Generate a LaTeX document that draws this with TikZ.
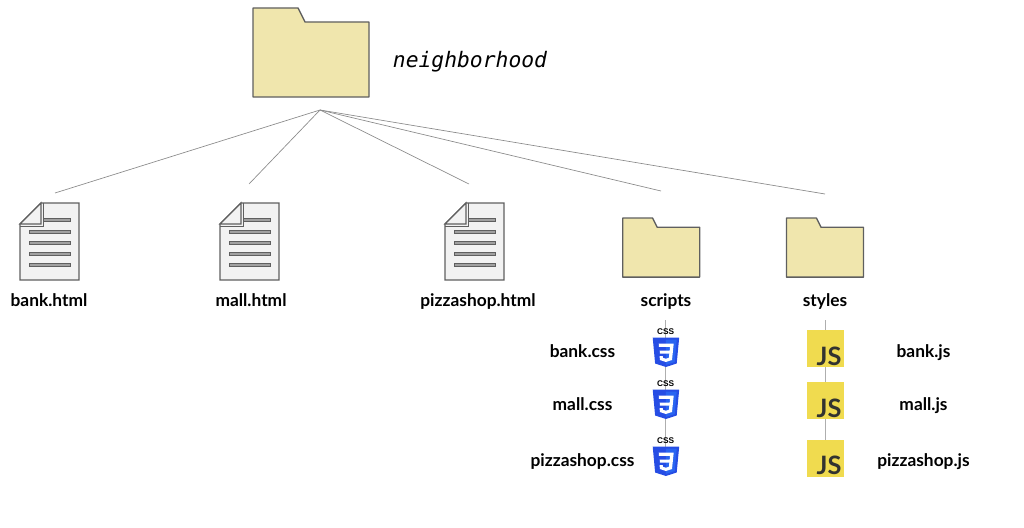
\documentclass[tikz,border=0pt]{standalone}
\usepackage{xcolor}
\usepackage{fontspec}
\setmainfont{Lato}
\newfontfamily\dirfont{DejaVu Sans Mono}
\newfontfamily\cssfont{Liberation Sans}
\usepackage{tikz}
\definecolor{folderfill}{HTML}{F0E6AD}
\definecolor{outline}{HTML}{5F5F5F}
\definecolor{link}{HTML}{8A8A8A}
\definecolor{bar}{HTML}{A0A0A0}
\definecolor{docfill}{HTML}{F2F2F2}
\definecolor{cssblue}{HTML}{264DE4}
\definecolor{csslight}{HTML}{2965F1}
\definecolor{jsyellow}{HTML}{F0DB4F}
\definecolor{jsdark}{HTML}{323330}
\tikzset{
  edge/.style={draw=link, line width=0.5pt},
  stem/.style={draw=bar!85, line width=1pt},
  lab/.style={font=\bfseries\fontsize{13}{15}\selectfont, text=black, inner sep=0pt, anchor=base},
  dirlab/.style={font=\dirfont\itshape\fontsize{16}{18}\selectfont, text=black, inner sep=0pt, anchor=base},
  folderpic/.pic={
    \draw[fill=folderfill, draw=outline, line width=1pt, line join=round]
      (0,0)--(45,0)--(52,14)--(116,14)--(116,89)--(0,89)--cycle;
  },
  docpic/.pic={
    \draw[fill=docfill, draw=outline, line width=0.9pt] (21,0)--(59,0)--(59,77)--(0,77)--(0,21)--cycle;
    \foreach \yy in {27.5,38.5,49.5,60.5} {
      \draw[fill=bar, draw=outline, line width=0.5pt] (9,\yy) rectangle (50,\yy+3);
    }
    \draw[fill=bar, draw=outline, line width=0.5pt] (23,15) rectangle (50,18);
    \draw[fill=docfill, draw=outline, line width=0.9pt] (21,0)--(0,21)--(21,21)--cycle;
    \draw[draw=outline, line width=0.6pt] (23,0)--(23,23)--(0,23);
  },
  csspic/.pic={
    \node[font=\cssfont\bfseries\fontsize{6.2}{7}\selectfont, inner sep=0pt] (#1) at (13,-5.5) {CSS};
    \fill[cssblue] (0,0)--(26.5,0)--(24,26)--(13.2,29.5)--(2.4,26)--cycle;
    \fill[csslight] (13.2,2.2)--(24,2.2)--(22,24.6)--(13.2,27.4)--cycle;
    \fill[white] (6,6)--(21,6)--(19.3,22.5)--(13.2,24.5)--(7.2,22.5)--(6.9,18.5)--(10,18.5)--(10.2,20.3)--(13.2,21.2)--(16.2,20.3)--(16.6,16.2)--(7.2,16.2)--(7,13)--(17,13)--(17.3,9.4)--(6.3,9.4)--cycle;
  },
  jspic/.pic={
    \fill[jsyellow] (0,0) rectangle (37,37);
    \node[font=\bfseries\fontsize{19}{21}\selectfont, text=jsdark, inner sep=0pt, anchor=base east] (#1) at (35,35) {JS};
  }
}
\begin{document}
\begin{tikzpicture}[x=0.75pt,y=-0.75pt]
  \useasboundingbox (0,0) rectangle (1024,528);

  % links from the root folder
  \coordinate (root) at (320,110);
  \coordinate (bankEnd) at (55,193);
  \coordinate (mallEnd) at (249,184);
  \coordinate (pizzaEnd) at (469,184);
  \coordinate (scriptsEnd) at (661,191);
  \coordinate (stylesEnd) at (825,194);
  \foreach \e in {bankEnd,mallEnd,pizzaEnd,scriptsEnd,stylesEnd}
    \draw[edge] (root)--(\e);

  % stems behind the icons
  \coordinate (cssTop) at (665.5,320);
  \coordinate (cssEnd) at (665.5,450);
  \coordinate (jsTop) at (825.5,320);
  \coordinate (jsEnd) at (825.5,445);
  \draw[stem] (cssTop)--(cssEnd);
  \draw[stem] (jsTop)--(jsEnd);

  % folders
  \pic at (253,8) {folderpic};
  \pic[scale=0.664] at (622.7,218) {folderpic};
  \pic[scale=0.664] at (786.5,218) {folderpic};

  % documents
  \foreach \xx in {20,220,445}
    \pic at (\xx,203) {docpic};

  % icons
  \pic at (652.7,337.5) {csspic=cssA};
  \pic at (652.7,389.5) {csspic=cssB};
  \pic at (652.7,446.5) {csspic=cssC};
  \pic at (806.7,330) {jspic=jsA};
  \pic at (806.7,382) {jspic=jsB};
  \pic at (806.7,439.5) {jspic=jsC};

  % labels
  \node[dirlab] (neighborhood) at (470,68) {neighborhood};
  \node[lab] (bankHtml) at (49,306) {bank.html};
  \node[lab] (mallHtml) at (251,306) {mall.html};
  \node[lab] (pizzaHtml) at (478,306) {pizzashop.html};
  \node[lab] (scripts) at (666,306) {scripts};
  \node[lab] (styles) at (825,306) {styles};
  \node[lab] (bankCss) at (582.5,357) {bank.css};
  \node[lab] (mallCss) at (582.5,410) {mall.css};
  \node[lab] (pizzaCss) at (582.5,466) {pizzashop.css};
  \node[lab] (bankJs) at (923.5,357) {bank.js};
  \node[lab] (mallJs) at (923.5,410) {mall.js};
  \node[lab] (pizzaJs) at (923.5,466) {pizzashop.js};
\end{tikzpicture}
\end{document}
